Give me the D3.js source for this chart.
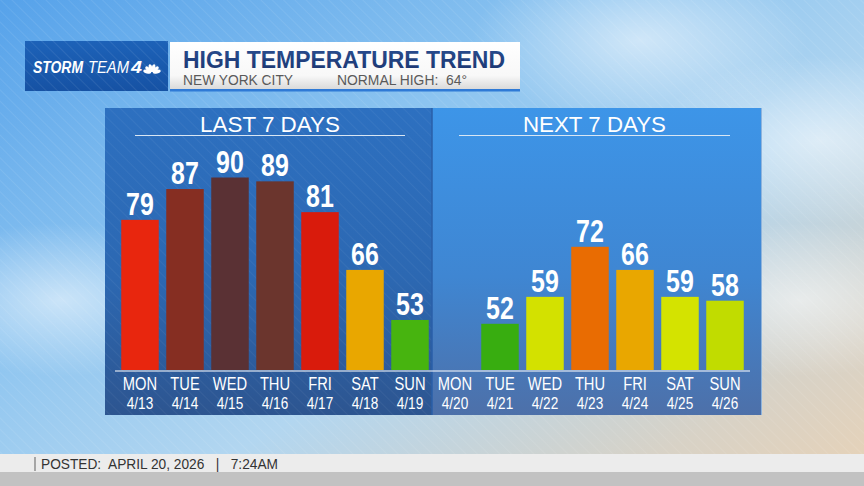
<!DOCTYPE html>
<html><head><meta charset="utf-8">
<script src="https://cdn.jsdelivr.net/npm/d3@7"></script>
<style>html,body{margin:0;padding:0;overflow:hidden;background:#9cc8ec} text{white-space:pre}</style>
</head><body>
<svg id="c" width="864" height="486"></svg>
<script>
const days = ["MON","TUE","WED","THU","FRI","SAT","SUN","MON","TUE","WED","THU","FRI","SAT","SUN"];
const dates = ["4/13","4/14","4/15","4/16","4/17","4/18","4/19","4/20","4/21","4/22","4/23","4/24","4/25","4/26"];
const highs = [79,87,90,89,81,66,53,null,52,59,72,66,59,58];
const barColors = ["#e8260e","#862e22","#5a3134","#6b352d","#d91b0c","#e9a700","#47b40f",null,"#38ad10","#d3e100","#e96c02","#e9a700","#d4e300","#c1dc00"];
const panelTitles = ["LAST 7 DAYS","NEXT 7 DAYS"];
const titleText = "HIGH TEMPERATURE TREND";
const cityText = "NEW YORK CITY";
const normalText = "NORMAL HIGH:  64°";
const postedText = "POSTED:  APRIL 20, 2026   |   7:24AM";

const svg = d3.select("#c");
const defs = svg.append("defs");

// background
const bg = defs.append("linearGradient").attr("id","bg").attr("x1",0).attr("y1",0).attr("x2",1).attr("y2",1);
[["0","#56a2ea"],["0.35","#8cc4f0"],["0.6","#b2d6f0"],["0.85","#d8d2c6"],["1","#e8d2b6"]].forEach(s=>bg.append("stop").attr("offset",s[0]).attr("stop-color",s[1]));
svg.append("rect").attr("width",864).attr("height",486).attr("fill","url(#bg)");
const cl = defs.append("radialGradient").attr("id","cloud");
cl.append("stop").attr("offset",0).attr("stop-color","#ffffff").attr("stop-opacity",0.55);
cl.append("stop").attr("offset",1).attr("stop-color","#ffffff").attr("stop-opacity",0);
[[820,140,120],[640,40,120],[60,300,110],[800,300,110]].forEach(c=>svg.append("ellipse").attr("cx",c[0]).attr("cy",c[1]).attr("rx",c[2]*1.4).attr("ry",c[2]*0.7).attr("fill","url(#cloud)"));
const pat = defs.append("pattern").attr("id","stripes").attr("width",8).attr("height",8).attr("patternUnits","userSpaceOnUse").attr("patternTransform","rotate(-45)");
pat.append("rect").attr("width",1).attr("height",8).attr("fill","#ffffff").attr("opacity",0.08);
svg.append("rect").attr("width",864).attr("height",486).attr("fill","url(#stripes)");

// panels
const lp = defs.append("linearGradient").attr("id","lp").attr("x1",0).attr("y1",0).attr("x2",0).attr("y2",1);
lp.append("stop").attr("offset",0).attr("stop-color","#2d70c0");
lp.append("stop").attr("offset",0.55).attr("stop-color","#2c68b2");
lp.append("stop").attr("offset",1).attr("stop-color","#2d5590");
const rp = defs.append("linearGradient").attr("id","rp").attr("x1",0).attr("y1",0).attr("x2",0).attr("y2",1);
rp.append("stop").attr("offset",0).attr("stop-color","#3d95e8");
rp.append("stop").attr("offset",0.55).attr("stop-color","#3f86d2");
rp.append("stop").attr("offset",1).attr("stop-color","#4d70a9");
svg.append("rect").attr("x",105).attr("y",108).attr("width",327).attr("height",307).attr("fill","url(#lp)");
svg.append("rect").attr("x",432).attr("y",108).attr("width",330).attr("height",307).attr("fill","url(#rp)");
svg.append("rect").attr("x",105).attr("y",108).attr("width",327).attr("height",307).attr("fill","url(#stripes)").attr("opacity",0.6);
svg.append("line").attr("x1",432).attr("x2",432).attr("y1",108).attr("y2",415).attr("stroke","#2a5fa8").attr("stroke-width",1.5);
svg.append("line").attr("x1",761.5).attr("x2",761.5).attr("y1",108).attr("y2",415).attr("stroke","#8fb4dc").attr("stroke-width",1);

// scales
const x = d3.scaleBand().domain(d3.range(days.length)).range([117.5,747.5]).paddingInner(1/6).paddingOuter(1/12);
const y = d3.scaleLinear().domain([40,90]).range([370,177.5]);

// panel titles
const ptX = [[135,405],[459,730]];
panelTitles.forEach((t,i)=>{
  const cx=(ptX[i][0]+ptX[i][1])/2;
  svg.append("text").attr("x",cx).attr("y",132).attr("text-anchor","middle").attr("fill","#fff")
    .attr("font-family","'Liberation Sans',Arial,sans-serif").attr("font-size",22).attr("textLength",i==0?140:143).attr("lengthAdjust","spacingAndGlyphs").text(t);
  svg.append("line").attr("x1",ptX[i][0]).attr("x2",ptX[i][1]).attr("y1",135.5).attr("y2",135.5).attr("stroke","#d8e6f4").attr("stroke-width",1.2);
});

// bars
const data = highs.map((v,i)=>({i,v,c:barColors[i]})).filter(d=>d.v!=null);
svg.append("g").selectAll("rect").data(data).join("rect")
  .attr("x",d=>x(d.i)).attr("width",x.bandwidth())
  .attr("y",d=>y(d.v)).attr("height",d=>y.range()[0]-y(d.v)).attr("fill",d=>d.c);
svg.append("g").selectAll("text").data(data).join("text")
  .attr("transform",d=>`translate(${x(d.i)+x.bandwidth()/2},${y(d.v)-5}) scale(0.78,1)`)
  .attr("text-anchor","middle").attr("fill","#fff").attr("font-weight","bold")
  .attr("font-family","'Liberation Sans',Arial,sans-serif").attr("font-size",32)
  .text(d=>d.v);

// baselines
svg.append("line").attr("x1",115).attr("x2",432).attr("y1",371).attr("y2",371).attr("stroke","#fff").attr("stroke-width",1.2);
svg.append("line").attr("x1",432).attr("x2",750).attr("y1",371).attr("y2",371).attr("stroke","#fff").attr("stroke-width",1.2);

// axis labels
const lab = svg.append("g");
days.forEach((d,i)=>{
  const cx=x(i)+x.bandwidth()/2;
  lab.append("text").attr("transform",`translate(${cx},390) scale(0.84,1)`).attr("text-anchor","middle").attr("fill","#fff")
    .attr("font-family","'Liberation Sans',Arial,sans-serif").attr("font-size",17.5).text(d);
  lab.append("text").attr("transform",`translate(${cx},409) scale(0.85,1)`).attr("text-anchor","middle").attr("fill","#fff")
    .attr("font-family","'Liberation Sans',Arial,sans-serif").attr("font-size",16).text(dates[i]);
});

// header: logo box
const lg = defs.append("linearGradient").attr("id","lg").attr("x1",0).attr("y1",0).attr("x2",0).attr("y2",1);
lg.append("stop").attr("offset",0).attr("stop-color","#1d62b8");
lg.append("stop").attr("offset",1).attr("stop-color","#1652a4");
svg.append("rect").attr("x",25).attr("y",41).attr("width",143).attr("height",50).attr("fill","url(#lg)");
svg.append("rect").attr("x",25).attr("y",41).attr("width",143).attr("height",50).attr("fill","url(#stripes)");
const logoParts = [["STORM",33,50,"bold"],["TEAM",88,41,"normal"],["4",131,11,"bold"]];
logoParts.forEach(p=>svg.append("text").attr("x",p[1]).attr("y",73).attr("fill","#fff").attr("font-style","italic").attr("font-weight",p[3])
  .attr("font-family","'Liberation Sans',Arial,sans-serif").attr("font-size",16).attr("textLength",p[2]).attr("lengthAdjust","spacingAndGlyphs").text(p[0]));
// peacock
const pk = svg.append("g").attr("transform","translate(152,73)");
d3.range(6).forEach(k=>{
  const a = (k-2.5)*30;
  pk.append("ellipse").attr("cx",0).attr("cy",-5).attr("rx",1.8).attr("ry",4).attr("fill","#fff")
    .attr("transform",`rotate(${a})`);
});

// title box
const tb = defs.append("linearGradient").attr("id","tb").attr("x1",0).attr("y1",0).attr("x2",0).attr("y2",1);
tb.append("stop").attr("offset",0).attr("stop-color","#ffffff");
tb.append("stop").attr("offset",0.7).attr("stop-color","#f8f8f8");
tb.append("stop").attr("offset",1).attr("stop-color","#d8d8d8");
svg.append("rect").attr("x",170).attr("y",42).attr("width",350).attr("height",48).attr("fill","url(#tb)");
svg.append("rect").attr("x",170).attr("y",89).attr("width",350).attr("height",2.5).attr("fill","#2f7ad6");
const tt = defs.append("linearGradient").attr("id","tt").attr("x1",0).attr("y1",0).attr("x2",0).attr("y2",1);
tt.append("stop").attr("offset",0).attr("stop-color","#2a4f92");
tt.append("stop").attr("offset",1).attr("stop-color","#1b3570");
svg.append("text").attr("x",183).attr("y",67.5).attr("fill","url(#tt)").attr("font-weight","bold")
  .attr("font-family","'Liberation Sans',Arial,sans-serif").attr("font-size",24).attr("textLength",322).attr("lengthAdjust","spacingAndGlyphs").text(titleText);
svg.append("text").attr("x",183).attr("y",85).attr("fill","#5a5a5a")
  .attr("font-family","'Liberation Sans',Arial,sans-serif").attr("font-size",14).attr("textLength",110).attr("lengthAdjust","spacingAndGlyphs").text(cityText);
svg.append("text").attr("x",337).attr("y",85).attr("fill","#5a5a5a")
  .attr("font-family","'Liberation Sans',Arial,sans-serif").attr("font-size",14).attr("textLength",130).attr("lengthAdjust","spacingAndGlyphs").text(normalText);

// footer
svg.append("rect").attr("x",0).attr("y",454).attr("width",864).attr("height",18).attr("fill","#ececec");
svg.append("rect").attr("x",0).attr("y",472).attr("width",864).attr("height",14).attr("fill","#c2c2c2");
svg.append("line").attr("x1",35).attr("x2",35).attr("y1",457).attr("y2",471).attr("stroke","#777").attr("stroke-width",1.2);
svg.append("text").attr("x",41).attr("y",469).attr("fill","#333")
  .attr("font-family","'Liberation Sans',Arial,sans-serif").attr("font-size",14).attr("textLength",237).attr("lengthAdjust","spacingAndGlyphs").text(postedText);
</script>
</body></html>
